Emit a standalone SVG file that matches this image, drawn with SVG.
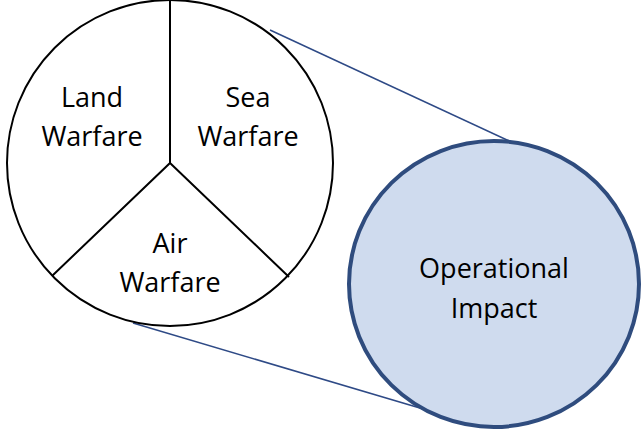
<svg xmlns="http://www.w3.org/2000/svg" width="642" height="430" viewBox="0 0 642 430">
<style>
text{font-family:"Open Sans","Liberation Sans",sans-serif;font-size:27px;fill:#000;text-anchor:middle}
.c{stroke:#2e4a86;stroke-width:1.5;fill:none}
</style>
<g id="connectors">
<line class="c" x1="270" y1="30" x2="546" y2="158"/>
<line class="c" x1="133" y1="323" x2="430" y2="411"/>
</g>
<g id="pie">
<circle cx="170" cy="163" r="163" fill="#fff" stroke="#000" stroke-width="2"/>
<path d="M170 0V163L52 276M170 163L289 277" fill="none" stroke="#000" stroke-width="2"/>
</g>
<g id="land"><text x="92" y="107">Land</text><text x="92" y="146">Warfare</text></g>
<g id="sea"><text x="248" y="107">Sea</text><text x="248" y="146">Warfare</text></g>
<g id="air"><text x="170" y="253">Air</text><text x="170" y="292">Warfare</text></g>
<g id="impact">
<ellipse cx="494" cy="284" rx="145" ry="143" fill="#cfdbee" stroke="#2f4c7e" stroke-width="4"/>
<text x="494" y="278">Operational</text><text x="494" y="318">Impact</text>
</g>
</svg>
